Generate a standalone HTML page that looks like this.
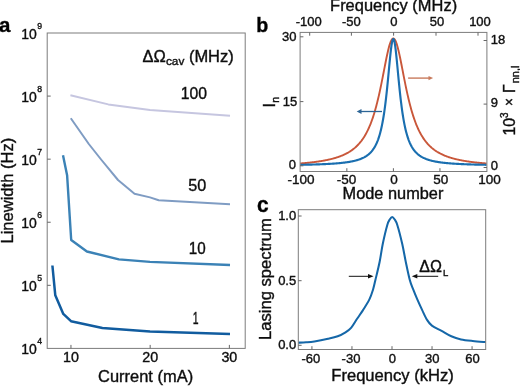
<!DOCTYPE html>
<html><head><meta charset="utf-8"><title>figure</title>
<style>
html,body{margin:0;padding:0;background:#fff;}
svg{display:block;font-family:"Liberation Sans",sans-serif;}
text{stroke:#1a1a1a;stroke-width:0.4px;}
</style></head><body>
<svg width="520" height="386" viewBox="0 0 520 386">
<rect width="520" height="386" fill="#ffffff"/>
<rect x="47.2" y="33.0" width="198.0" height="315.4" fill="none" stroke="#7c7c7c" stroke-width="1.0"/>
<text transform="translate(21.30,39.00) scale(0.9974,1)" font-size="14" fill="#0a0a0a">10</text>
<text transform="translate(37.20,28.80) scale(0.9104,1)" font-size="9.5" fill="#0a0a0a">9</text>
<line x1="47.20" y1="96.08" x2="50.70" y2="96.08" stroke="#666666" stroke-width="1"/>
<text transform="translate(21.30,101.98) scale(0.9974,1)" font-size="14" fill="#0a0a0a">10</text>
<text transform="translate(37.20,91.78) scale(0.9104,1)" font-size="9.5" fill="#0a0a0a">8</text>
<line x1="47.20" y1="159.16" x2="50.70" y2="159.16" stroke="#666666" stroke-width="1"/>
<text transform="translate(21.30,164.96) scale(0.9974,1)" font-size="14" fill="#0a0a0a">10</text>
<text transform="translate(37.20,154.76) scale(0.9104,1)" font-size="9.5" fill="#0a0a0a">7</text>
<line x1="47.20" y1="222.24" x2="50.70" y2="222.24" stroke="#666666" stroke-width="1"/>
<text transform="translate(21.30,227.94) scale(0.9974,1)" font-size="14" fill="#0a0a0a">10</text>
<text transform="translate(37.20,217.74) scale(0.9104,1)" font-size="9.5" fill="#0a0a0a">6</text>
<line x1="47.20" y1="285.32" x2="50.70" y2="285.32" stroke="#666666" stroke-width="1"/>
<text transform="translate(21.30,290.92) scale(0.9974,1)" font-size="14" fill="#0a0a0a">10</text>
<text transform="translate(37.20,280.72) scale(0.9104,1)" font-size="9.5" fill="#0a0a0a">5</text>
<text transform="translate(21.30,353.90) scale(0.9974,1)" font-size="14" fill="#0a0a0a">10</text>
<text transform="translate(37.20,343.70) scale(0.9104,1)" font-size="9.5" fill="#0a0a0a">4</text>
<line x1="70.96" y1="348.40" x2="70.96" y2="344.90" stroke="#666666" stroke-width="1"/>
<text transform="translate(63.03,362.20) scale(1.0200,1)" font-size="14" fill="#0a0a0a">10</text>
<line x1="150.16" y1="348.40" x2="150.16" y2="344.90" stroke="#666666" stroke-width="1"/>
<text transform="translate(142.23,362.20) scale(1.0200,1)" font-size="14" fill="#0a0a0a">20</text>
<line x1="229.36" y1="348.40" x2="229.36" y2="344.90" stroke="#666666" stroke-width="1"/>
<text transform="translate(221.43,362.20) scale(1.0200,1)" font-size="14" fill="#0a0a0a">30</text>
<text transform="translate(98.10,382.40) scale(1.0283,1)" font-size="16" fill="#0a0a0a">Current (mA)</text>
<text transform="translate(13.40,243.50) rotate(-90) scale(1.0338,1)" font-size="16" fill="#0a0a0a">Linewidth (Hz)</text>
<text transform="translate(-1.00,32.00) scale(0.9777,1)" font-size="21" font-weight="bold" fill="#000">a</text>
<text transform="translate(142.6,62) scale(1.03,1)" font-size="16" fill="#0a0a0a">ΔΩ<tspan font-size="11.5" dy="2.5">cav</tspan><tspan dy="-2.5"> (MHz)</tspan></text>
<text transform="translate(180.75,99.30) scale(0.9824,1)" font-size="16" fill="#0a0a0a">100</text>
<text transform="translate(188.30,190.50) scale(1.0135,1)" font-size="16" fill="#0a0a0a">50</text>
<text transform="translate(188.80,254.00) scale(0.9516,1)" font-size="16" fill="#0a0a0a">10</text>
<text transform="translate(192.70,324.00) scale(0.6532,1)" font-size="16" fill="#0a0a0a">1</text>
<path d="M70.40,95.30 L108.30,104.40 L150.00,109.90 L230.00,115.70" fill="none" stroke="#c6c6e0" stroke-width="2" stroke-linejoin="round" stroke-linecap="butt"/>
<path d="M70.80,118.30 L88.80,144.00 L101.50,160.00 L118.00,180.00 L134.50,193.70 L150.00,197.40 L158.70,200.20 L230.00,204.30" fill="none" stroke="#7f9cc3" stroke-width="2" stroke-linejoin="round" stroke-linecap="butt"/>
<path d="M63.00,155.20 L67.10,175.20 L71.20,240.00 L86.90,251.50 L118.90,259.40 L150.00,261.90 L230.00,265.00" fill="none" stroke="#3b82b6" stroke-width="2.4" stroke-linejoin="round" stroke-linecap="butt"/>
<path d="M52.40,265.50 L55.30,295.30 L63.30,313.90 L71.00,321.20 L102.40,328.00 L150.00,331.60 L230.00,333.90" fill="none" stroke="#115c9f" stroke-width="2.5" stroke-linejoin="round" stroke-linecap="butt"/>
<clipPath id="cb"><rect x="300.1" y="32.4" width="186.79999999999995" height="139.1"/></clipPath>
<g clip-path="url(#cb)">
<path d="M300.10,163.46 L300.60,163.42 L301.10,163.38 L301.60,163.34 L302.10,163.30 L302.60,163.26 L303.10,163.22 L303.60,163.17 L304.10,163.13 L304.60,163.08 L305.10,163.04 L305.60,162.99 L306.10,162.94 L306.60,162.90 L307.10,162.85 L307.60,162.80 L308.10,162.75 L308.60,162.70 L309.10,162.64 L309.60,162.59 L310.10,162.54 L310.60,162.48 L311.10,162.43 L311.60,162.37 L312.10,162.31 L312.60,162.25 L313.10,162.19 L313.60,162.13 L314.10,162.07 L314.60,162.01 L315.10,161.94 L315.60,161.88 L316.10,161.81 L316.60,161.74 L317.10,161.67 L317.60,161.60 L318.10,161.53 L318.60,161.46 L319.10,161.38 L319.60,161.31 L320.10,161.23 L320.60,161.15 L321.10,161.07 L321.60,160.99 L322.10,160.90 L322.60,160.82 L323.10,160.73 L323.60,160.64 L324.10,160.55 L324.60,160.46 L325.10,160.36 L325.60,160.27 L326.10,160.17 L326.60,160.07 L327.10,159.97 L327.60,159.86 L328.10,159.75 L328.60,159.65 L329.10,159.53 L329.60,159.42 L330.10,159.30 L330.60,159.18 L331.10,159.06 L331.60,158.94 L332.10,158.81 L332.60,158.68 L333.10,158.55 L333.60,158.41 L334.10,158.27 L334.60,158.13 L335.10,157.98 L335.60,157.83 L336.10,157.68 L336.60,157.52 L337.10,157.36 L337.60,157.20 L338.10,157.03 L338.60,156.86 L339.10,156.68 L339.60,156.50 L340.10,156.32 L340.60,156.13 L341.10,155.93 L341.60,155.73 L342.10,155.52 L342.60,155.31 L343.10,155.10 L343.60,154.88 L344.10,154.65 L344.60,154.41 L345.10,154.17 L345.60,153.93 L346.10,153.67 L346.60,153.41 L347.10,153.14 L347.60,152.87 L348.10,152.59 L348.60,152.29 L349.10,151.99 L349.60,151.69 L350.10,151.37 L350.60,151.04 L351.10,150.70 L351.60,150.36 L352.10,150.00 L352.60,149.63 L353.10,149.25 L353.60,148.86 L354.10,148.46 L354.60,148.04 L355.10,147.62 L355.60,147.17 L356.10,146.72 L356.60,146.25 L357.10,145.76 L357.60,145.26 L358.10,144.74 L358.60,144.20 L359.10,143.65 L359.60,143.07 L360.10,142.48 L360.60,141.87 L361.10,141.24 L361.60,140.58 L362.10,139.90 L362.60,139.20 L363.10,138.47 L363.60,137.72 L364.10,136.94 L364.60,136.13 L365.10,135.30 L365.60,134.43 L366.10,133.53 L366.60,132.60 L367.10,131.63 L367.60,130.63 L368.10,129.59 L368.60,128.52 L369.10,127.40 L369.60,126.24 L370.10,125.04 L370.60,123.80 L371.10,122.51 L371.60,121.17 L372.10,119.78 L372.60,118.34 L373.10,116.85 L373.60,115.30 L374.10,113.70 L374.60,112.04 L375.10,110.33 L375.60,108.56 L376.10,106.72 L376.60,104.83 L377.10,102.87 L377.60,100.85 L378.10,98.77 L378.60,96.64 L379.10,94.44 L379.60,92.18 L380.10,89.87 L380.60,87.50 L381.10,85.09 L381.60,82.63 L382.10,80.13 L382.60,77.60 L383.10,75.05 L383.60,72.48 L384.10,69.89 L384.60,67.32 L385.10,64.76 L385.60,62.22 L386.10,59.74 L386.60,57.30 L387.10,54.95 L387.60,52.68 L388.10,50.53 L388.60,48.49 L389.10,46.61 L389.60,44.88 L390.10,43.33 L390.60,41.98 L391.10,40.83 L391.60,39.90 L392.10,39.20 L392.60,38.74 L393.10,38.52 L393.60,38.54 L394.10,38.81 L394.60,39.32 L395.10,40.07 L395.60,41.04 L396.10,42.23 L396.60,43.63 L397.10,45.21 L397.60,46.97 L398.10,48.89 L398.60,50.95 L399.10,53.13 L399.60,55.41 L400.10,57.79 L400.60,60.23 L401.10,62.73 L401.60,65.27 L402.10,67.83 L402.60,70.41 L403.10,72.99 L403.60,75.56 L404.10,78.11 L404.60,80.64 L405.10,83.13 L405.60,85.58 L406.10,87.98 L406.60,90.34 L407.10,92.64 L407.60,94.88 L408.10,97.07 L408.60,99.19 L409.10,101.26 L409.60,103.27 L410.10,105.21 L410.60,107.09 L411.10,108.91 L411.60,110.68 L412.10,112.38 L412.60,114.03 L413.10,115.62 L413.60,117.15 L414.10,118.63 L414.60,120.06 L415.10,121.44 L415.60,122.77 L416.10,124.05 L416.60,125.29 L417.10,126.48 L417.60,127.63 L418.10,128.74 L418.60,129.80 L419.10,130.84 L419.60,131.83 L420.10,132.79 L420.60,133.71 L421.10,134.60 L421.60,135.47 L422.10,136.30 L422.60,137.10 L423.10,137.87 L423.60,138.62 L424.10,139.34 L424.60,140.04 L425.10,140.71 L425.60,141.36 L426.10,141.99 L426.60,142.60 L427.10,143.19 L427.60,143.76 L428.10,144.31 L428.60,144.84 L429.10,145.36 L429.60,145.86 L430.10,146.34 L430.60,146.81 L431.10,147.26 L431.60,147.70 L432.10,148.13 L432.60,148.54 L433.10,148.94 L433.60,149.33 L434.10,149.71 L434.60,150.07 L435.10,150.43 L435.60,150.77 L436.10,151.11 L436.60,151.43 L437.10,151.75 L437.60,152.05 L438.10,152.35 L438.60,152.64 L439.10,152.92 L439.60,153.20 L440.10,153.46 L440.60,153.72 L441.10,153.98 L441.60,154.22 L442.10,154.46 L442.60,154.69 L443.10,154.92 L443.60,155.14 L444.10,155.36 L444.60,155.57 L445.10,155.77 L445.60,155.97 L446.10,156.16 L446.60,156.35 L447.10,156.54 L447.60,156.72 L448.10,156.89 L448.60,157.06 L449.10,157.23 L449.60,157.40 L450.10,157.56 L450.60,157.71 L451.10,157.86 L451.60,158.01 L452.10,158.16 L452.60,158.30 L453.10,158.44 L453.60,158.57 L454.10,158.71 L454.60,158.84 L455.10,158.96 L455.60,159.09 L456.10,159.21 L456.60,159.33 L457.10,159.44 L457.60,159.56 L458.10,159.67 L458.60,159.78 L459.10,159.88 L459.60,159.99 L460.10,160.09 L460.60,160.19 L461.10,160.29 L461.60,160.38 L462.10,160.48 L462.60,160.57 L463.10,160.66 L463.60,160.75 L464.10,160.84 L464.60,160.92 L465.10,161.00 L465.60,161.09 L466.10,161.17 L466.60,161.24 L467.10,161.32 L467.60,161.40 L468.10,161.47 L468.60,161.54 L469.10,161.62 L469.60,161.69 L470.10,161.76 L470.60,161.82 L471.10,161.89 L471.60,161.96 L472.10,162.02 L472.60,162.08 L473.10,162.14 L473.60,162.21 L474.10,162.26 L474.60,162.32 L475.10,162.38 L475.60,162.44 L476.10,162.49 L476.60,162.55 L477.10,162.60 L477.60,162.66 L478.10,162.71 L478.60,162.76 L479.10,162.81 L479.60,162.86 L480.10,162.91 L480.60,162.95 L481.10,163.00 L481.60,163.05 L482.10,163.09 L482.60,163.14 L483.10,163.18 L483.60,163.23 L484.10,163.27 L484.60,163.31 L485.10,163.35 L485.60,163.39 L486.10,163.43 L486.60,163.47" fill="none" stroke="#c9573a" stroke-width="1.9" stroke-linejoin="round" stroke-linecap="butt"/>
<path d="M300.10,164.83 L300.60,164.82 L301.10,164.81 L301.60,164.80 L302.10,164.79 L302.60,164.78 L303.10,164.77 L303.60,164.76 L304.10,164.75 L304.60,164.74 L305.10,164.73 L305.60,164.72 L306.10,164.71 L306.60,164.69 L307.10,164.68 L307.60,164.67 L308.10,164.66 L308.60,164.65 L309.10,164.63 L309.60,164.62 L310.10,164.61 L310.60,164.60 L311.10,164.58 L311.60,164.57 L312.10,164.56 L312.60,164.54 L313.10,164.53 L313.60,164.51 L314.10,164.50 L314.60,164.48 L315.10,164.47 L315.60,164.45 L316.10,164.43 L316.60,164.42 L317.10,164.40 L317.60,164.38 L318.10,164.37 L318.60,164.35 L319.10,164.33 L319.60,164.31 L320.10,164.29 L320.60,164.28 L321.10,164.26 L321.60,164.24 L322.10,164.22 L322.60,164.19 L323.10,164.17 L323.60,164.15 L324.10,164.13 L324.60,164.11 L325.10,164.08 L325.60,164.06 L326.10,164.04 L326.60,164.01 L327.10,163.99 L327.60,163.96 L328.10,163.93 L328.60,163.91 L329.10,163.88 L329.60,163.85 L330.10,163.82 L330.60,163.79 L331.10,163.76 L331.60,163.73 L332.10,163.70 L332.60,163.67 L333.10,163.63 L333.60,163.60 L334.10,163.56 L334.60,163.53 L335.10,163.49 L335.60,163.45 L336.10,163.41 L336.60,163.37 L337.10,163.33 L337.60,163.29 L338.10,163.25 L338.60,163.20 L339.10,163.16 L339.60,163.11 L340.10,163.07 L340.60,163.02 L341.10,162.97 L341.60,162.91 L342.10,162.86 L342.60,162.80 L343.10,162.75 L343.60,162.69 L344.10,162.63 L344.60,162.57 L345.10,162.50 L345.60,162.44 L346.10,162.37 L346.60,162.30 L347.10,162.23 L347.60,162.16 L348.10,162.08 L348.60,162.00 L349.10,161.92 L349.60,161.83 L350.10,161.75 L350.60,161.66 L351.10,161.56 L351.60,161.47 L352.10,161.37 L352.60,161.26 L353.10,161.16 L353.60,161.05 L354.10,160.93 L354.60,160.81 L355.10,160.69 L355.60,160.56 L356.10,160.43 L356.60,160.29 L357.10,160.14 L357.60,159.99 L358.10,159.84 L358.60,159.68 L359.10,159.51 L359.60,159.33 L360.10,159.15 L360.60,158.96 L361.10,158.76 L361.60,158.55 L362.10,158.33 L362.60,158.10 L363.10,157.87 L363.60,157.62 L364.10,157.36 L364.60,157.08 L365.10,156.80 L365.60,156.49 L366.10,156.18 L366.60,155.85 L367.10,155.50 L367.60,155.13 L368.10,154.74 L368.60,154.34 L369.10,153.91 L369.60,153.45 L370.10,152.97 L370.60,152.46 L371.10,151.93 L371.60,151.36 L372.10,150.75 L372.60,150.11 L373.10,149.43 L373.60,148.71 L374.10,147.93 L374.60,147.11 L375.10,146.24 L375.60,145.30 L376.10,144.30 L376.60,143.23 L377.10,142.08 L377.60,140.86 L378.10,139.54 L378.60,138.12 L379.10,136.60 L379.60,134.96 L380.10,133.20 L380.60,131.29 L381.10,129.24 L381.60,127.03 L382.10,124.64 L382.60,122.07 L383.10,119.29 L383.60,116.29 L384.10,113.07 L384.60,109.60 L385.10,105.87 L385.60,101.89 L386.10,97.64 L386.60,93.13 L387.10,88.38 L387.60,83.41 L388.10,78.26 L388.60,73.00 L389.10,67.69 L389.60,62.44 L390.10,57.37 L390.60,52.62 L391.10,48.36 L391.60,44.72 L392.10,41.87 L392.60,39.93 L393.10,38.98 L393.60,39.09 L394.10,40.24 L394.60,42.37 L395.10,45.39 L395.60,49.16 L396.10,53.54 L396.60,58.36 L397.10,63.48 L397.60,68.75 L398.10,74.06 L398.60,79.31 L399.10,84.42 L399.60,89.35 L400.10,94.06 L400.60,98.51 L401.10,102.71 L401.60,106.64 L402.10,110.31 L402.60,113.73 L403.10,116.91 L403.60,119.86 L404.10,122.60 L404.60,125.14 L405.10,127.49 L405.60,129.67 L406.10,131.69 L406.60,133.56 L407.10,135.30 L407.60,136.91 L408.10,138.41 L408.60,139.81 L409.10,141.11 L409.60,142.32 L410.10,143.45 L410.60,144.51 L411.10,145.49 L411.60,146.42 L412.10,147.28 L412.60,148.09 L413.10,148.85 L413.60,149.57 L414.10,150.24 L414.60,150.88 L415.10,151.47 L415.60,152.04 L416.10,152.57 L416.60,153.07 L417.10,153.54 L417.60,153.99 L418.10,154.42 L418.60,154.82 L419.10,155.21 L419.60,155.57 L420.10,155.91 L420.60,156.24 L421.10,156.56 L421.60,156.85 L422.10,157.14 L422.60,157.41 L423.10,157.67 L423.60,157.91 L424.10,158.15 L424.60,158.38 L425.10,158.59 L425.60,158.80 L426.10,159.00 L426.60,159.18 L427.10,159.37 L427.60,159.54 L428.10,159.71 L428.60,159.87 L429.10,160.02 L429.60,160.17 L430.10,160.32 L430.60,160.45 L431.10,160.58 L431.60,160.71 L432.10,160.84 L432.60,160.95 L433.10,161.07 L433.60,161.18 L434.10,161.28 L434.60,161.39 L435.10,161.49 L435.60,161.58 L436.10,161.67 L436.60,161.76 L437.10,161.85 L437.60,161.93 L438.10,162.02 L438.60,162.09 L439.10,162.17 L439.60,162.24 L440.10,162.32 L440.60,162.38 L441.10,162.45 L441.60,162.52 L442.10,162.58 L442.60,162.64 L443.10,162.70 L443.60,162.76 L444.10,162.82 L444.60,162.87 L445.10,162.92 L445.60,162.98 L446.10,163.03 L446.60,163.07 L447.10,163.12 L447.60,163.17 L448.10,163.21 L448.60,163.26 L449.10,163.30 L449.60,163.34 L450.10,163.38 L450.60,163.42 L451.10,163.46 L451.60,163.50 L452.10,163.53 L452.60,163.57 L453.10,163.61 L453.60,163.64 L454.10,163.67 L454.60,163.71 L455.10,163.74 L455.60,163.77 L456.10,163.80 L456.60,163.83 L457.10,163.86 L457.60,163.88 L458.10,163.91 L458.60,163.94 L459.10,163.97 L459.60,163.99 L460.10,164.02 L460.60,164.04 L461.10,164.06 L461.60,164.09 L462.10,164.11 L462.60,164.13 L463.10,164.16 L463.60,164.18 L464.10,164.20 L464.60,164.22 L465.10,164.24 L465.60,164.26 L466.10,164.28 L466.60,164.30 L467.10,164.32 L467.60,164.34 L468.10,164.35 L468.60,164.37 L469.10,164.39 L469.60,164.41 L470.10,164.42 L470.60,164.44 L471.10,164.45 L471.60,164.47 L472.10,164.49 L472.60,164.50 L473.10,164.52 L473.60,164.53 L474.10,164.54 L474.60,164.56 L475.10,164.57 L475.60,164.59 L476.10,164.60 L476.60,164.61 L477.10,164.62 L477.60,164.64 L478.10,164.65 L478.60,164.66 L479.10,164.67 L479.60,164.69 L480.10,164.70 L480.60,164.71 L481.10,164.72 L481.60,164.73 L482.10,164.74 L482.60,164.75 L483.10,164.76 L483.60,164.77 L484.10,164.78 L484.60,164.79 L485.10,164.80 L485.60,164.81 L486.10,164.82 L486.60,164.83" fill="none" stroke="#1a6fb0" stroke-width="2.15" stroke-linejoin="round" stroke-linecap="butt"/>
</g>
<rect x="300.1" y="32.4" width="186.79999999999995" height="139.1" fill="none" stroke="#7c7c7c" stroke-width="1.0"/>
<line x1="309.70" y1="32.40" x2="309.70" y2="35.70" stroke="#666666" stroke-width="1"/>
<text transform="translate(295.70,26.00) scale(1.0000,1)" font-size="13" fill="#0a0a0a">-100</text>
<line x1="351.40" y1="32.40" x2="351.40" y2="35.70" stroke="#666666" stroke-width="1"/>
<text transform="translate(342.01,26.00) scale(1.0000,1)" font-size="13" fill="#0a0a0a">-50</text>
<line x1="393.60" y1="32.40" x2="393.60" y2="35.70" stroke="#666666" stroke-width="1"/>
<text transform="translate(390.29,26.00) scale(1.0000,1)" font-size="13" fill="#0a0a0a">0</text>
<line x1="436.00" y1="32.40" x2="436.00" y2="35.70" stroke="#666666" stroke-width="1"/>
<text transform="translate(429.79,26.00) scale(1.0000,1)" font-size="13" fill="#0a0a0a">50</text>
<line x1="478.00" y1="32.40" x2="478.00" y2="35.70" stroke="#666666" stroke-width="1"/>
<text transform="translate(469.14,26.00) scale(1.0000,1)" font-size="13" fill="#0a0a0a">100</text>
<text transform="translate(287.40,183.90) scale(1.0000,1)" font-size="13.5" fill="#0a0a0a">-100</text>
<line x1="346.85" y1="171.50" x2="346.85" y2="168.20" stroke="#666666" stroke-width="1"/>
<text transform="translate(336.80,183.90) scale(1.0000,1)" font-size="13.5" fill="#0a0a0a">-50</text>
<line x1="393.40" y1="171.50" x2="393.40" y2="168.20" stroke="#666666" stroke-width="1"/>
<text transform="translate(390.15,183.90) scale(1.0000,1)" font-size="13.5" fill="#0a0a0a">0</text>
<line x1="439.95" y1="171.50" x2="439.95" y2="168.20" stroke="#666666" stroke-width="1"/>
<text transform="translate(433.26,183.90) scale(1.0000,1)" font-size="13.5" fill="#0a0a0a">50</text>
<text transform="translate(478.23,183.90) scale(1.0000,1)" font-size="13.5" fill="#0a0a0a">100</text>
<line x1="300.10" y1="36.80" x2="303.40" y2="36.80" stroke="#666666" stroke-width="1"/>
<text transform="translate(282.07,40.50) scale(1.0000,1)" font-size="13" fill="#0a0a0a">30</text>
<line x1="300.10" y1="101.60" x2="303.40" y2="101.60" stroke="#666666" stroke-width="1"/>
<text transform="translate(282.87,105.70) scale(1.0000,1)" font-size="13" fill="#0a0a0a">15</text>
<line x1="300.10" y1="165.80" x2="303.40" y2="165.80" stroke="#666666" stroke-width="1"/>
<text transform="translate(288.69,169.20) scale(1.0000,1)" font-size="13" fill="#0a0a0a">0</text>
<line x1="486.90" y1="40.50" x2="483.60" y2="40.50" stroke="#666666" stroke-width="1"/>
<text transform="translate(490.70,44.20) scale(1.0000,1)" font-size="13" fill="#0a0a0a">18</text>
<line x1="486.90" y1="104.10" x2="483.60" y2="104.10" stroke="#666666" stroke-width="1"/>
<text transform="translate(490.70,107.00) scale(1.0000,1)" font-size="13" fill="#0a0a0a">9</text>
<line x1="486.90" y1="167.50" x2="483.60" y2="167.50" stroke="#666666" stroke-width="1"/>
<text transform="translate(490.70,170.20) scale(1.0000,1)" font-size="13" fill="#0a0a0a">0</text>
<text transform="translate(330.10,11.10) scale(1.0283,1)" font-size="16" fill="#0a0a0a">Frequency (MHz)</text>
<text transform="translate(342.60,198.90) scale(1.0221,1)" font-size="16" fill="#0a0a0a">Mode number</text>
<text transform="translate(256.20,31.90) scale(0.9368,1)" font-size="21" font-weight="bold" fill="#000">b</text>
<text transform="translate(275.2,107.6) rotate(-90)" font-size="16" fill="#0a0a0a">I<tspan font-size="10.5" dy="3.6" dx="0.3">n</tspan></text>
<text transform="translate(515.00,135.60) rotate(-90) scale(1.0000,1)" font-size="16" fill="#0a0a0a">10</text>
<text transform="translate(507.90,117.90) rotate(-90) scale(1.0000,1)" font-size="10" fill="#0a0a0a">3</text>
<text transform="translate(514.40,106.10) rotate(-90) scale(0.9000,1)" font-size="15" fill="#0a0a0a">×</text>
<text transform="translate(515.00,93.10) rotate(-90) scale(1.0000,1)" font-size="16" fill="#0a0a0a">Γ</text>
<text transform="translate(518.60,83.30) rotate(-90) scale(1.0000,1)" font-size="11" fill="#0a0a0a">nn,l</text>
<line x1="408.10" y1="78.10" x2="429.42" y2="78.10" stroke="#c87a5c" stroke-width="1.4"/>
<polygon points="433.10,78.10 428.50,75.90 428.50,80.30" fill="#c87a5c"/>
<line x1="382.00" y1="111.50" x2="360.54" y2="111.50" stroke="#2c6596" stroke-width="1.3"/>
<polygon points="356.70,111.50 361.50,108.90 361.50,114.10" fill="#2c6596"/>
<clipPath id="cc"><rect x="298.3" y="209.7" width="187.39999999999998" height="139.8"/></clipPath>
<g clip-path="url(#cc)">
<path d="M298.00,342.70 C299.33,342.63 303.27,342.52 306.00,342.30 C308.73,342.08 310.73,341.98 314.40,341.40 C318.07,340.82 324.12,339.65 328.00,338.80 C331.88,337.95 334.78,337.37 337.70,336.30 C340.62,335.23 343.23,333.85 345.50,332.40 C347.77,330.95 349.37,329.87 351.30,327.60 C353.23,325.33 355.15,321.72 357.10,318.80 C359.05,315.88 360.95,313.33 363.00,310.10 C365.05,306.87 367.73,302.80 369.40,299.40 C371.07,296.00 372.00,292.93 373.00,289.70 C374.00,286.47 374.30,284.62 375.40,280.00 C376.50,275.38 378.37,268.03 379.60,262.00 C380.83,255.97 381.52,249.97 382.80,243.80 C384.08,237.63 386.12,229.10 387.30,225.00 C388.48,220.90 389.08,220.53 389.90,219.20 C390.72,217.87 391.43,217.00 392.20,217.00 C392.97,217.00 393.65,217.87 394.50,219.20 C395.35,220.53 396.02,220.90 397.30,225.00 C398.58,229.10 400.78,237.63 402.20,243.80 C403.62,249.97 404.53,255.97 405.80,262.00 C407.07,268.03 408.55,275.38 409.80,280.00 C411.05,284.62 412.05,286.47 413.30,289.70 C414.55,292.93 415.82,296.00 417.30,299.40 C418.78,302.80 420.58,306.70 422.20,310.10 C423.82,313.50 425.38,317.22 427.00,319.80 C428.62,322.38 429.47,323.75 431.90,325.60 C434.33,327.45 438.37,329.12 441.60,330.90 C444.83,332.68 448.07,334.88 451.30,336.30 C454.53,337.72 457.43,338.62 461.00,339.40 C464.57,340.18 468.55,340.55 472.70,341.00 C476.85,341.45 483.70,341.92 485.90,342.10" fill="none" stroke="#1567a8" stroke-width="2.05" stroke-linejoin="round"/>
</g>
<rect x="298.3" y="209.7" width="187.39999999999998" height="139.8" fill="none" stroke="#7c7c7c" stroke-width="1.0"/>
<line x1="311.93" y1="349.50" x2="311.93" y2="346.20" stroke="#666666" stroke-width="1"/>
<text transform="translate(301.54,363.00) scale(1.0000,1)" font-size="13" fill="#0a0a0a">-60</text>
<line x1="351.96" y1="349.50" x2="351.96" y2="346.20" stroke="#666666" stroke-width="1"/>
<text transform="translate(341.57,363.00) scale(1.0000,1)" font-size="13" fill="#0a0a0a">-30</text>
<line x1="392.00" y1="349.50" x2="392.00" y2="346.20" stroke="#666666" stroke-width="1"/>
<text transform="translate(388.69,363.00) scale(1.0000,1)" font-size="13" fill="#0a0a0a">0</text>
<line x1="432.04" y1="349.50" x2="432.04" y2="346.20" stroke="#666666" stroke-width="1"/>
<text transform="translate(425.12,363.00) scale(1.0000,1)" font-size="13" fill="#0a0a0a">30</text>
<line x1="472.07" y1="349.50" x2="472.07" y2="346.20" stroke="#666666" stroke-width="1"/>
<text transform="translate(465.16,363.00) scale(1.0000,1)" font-size="13" fill="#0a0a0a">60</text>
<line x1="298.30" y1="216.00" x2="301.60" y2="216.00" stroke="#666666" stroke-width="1"/>
<text transform="translate(278.13,219.90) scale(1.0000,1)" font-size="13" fill="#0a0a0a">1.0</text>
<line x1="298.30" y1="280.70" x2="301.60" y2="280.70" stroke="#666666" stroke-width="1"/>
<text transform="translate(278.13,284.60) scale(1.0000,1)" font-size="13" fill="#0a0a0a">0.5</text>
<line x1="298.30" y1="345.30" x2="301.60" y2="345.30" stroke="#666666" stroke-width="1"/>
<text transform="translate(278.13,349.20) scale(1.0000,1)" font-size="13" fill="#0a0a0a">0.0</text>
<text transform="translate(331.30,381.00) scale(1.0360,1)" font-size="16" fill="#0a0a0a">Frequency (kHz)</text>
<text transform="translate(270.50,340.00) rotate(-90) scale(1.0395,1)" font-size="16" fill="#0a0a0a">Lasing spectrum</text>
<text transform="translate(256.90,212.00) scale(0.9721,1)" font-size="21.5" font-weight="bold" fill="#000">c</text>
<line x1="348.80" y1="276.30" x2="369.10" y2="276.30" stroke="#111" stroke-width="1.0"/>
<polygon points="373.50,276.30 368.00,274.10 368.00,278.50" fill="#111"/>
<line x1="438.20" y1="276.30" x2="416.20" y2="276.30" stroke="#111" stroke-width="1.0"/>
<polygon points="411.80,276.30 417.30,274.10 417.30,278.50" fill="#111"/>
<text transform="translate(419.3,272.1)" font-size="16" fill="#0a0a0a">ΔΩ<tspan font-size="9.5" dy="3.4" dx="1.0">L</tspan></text>
</svg>
</body></html>
